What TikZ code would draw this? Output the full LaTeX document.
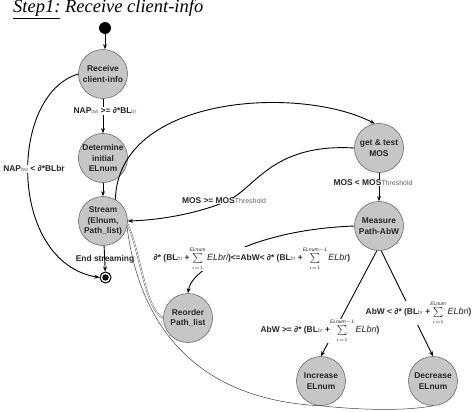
\documentclass[tikz,border=0pt]{standalone}
\usepackage{fontspec}
\setmainfont{Liberation Sans}
\newfontfamily\titlefont{Liberation Serif}
\usetikzlibrary{arrows.meta}
\definecolor{stfill}{RGB}{198,198,198}
\definecolor{stline}{RGB}{105,105,105}
\newcommand\smtxt[1]{{\fontsize{5.5}{6}\selectfont\mdseries\color{black!60}#1}}
\newcommand\thrtxt[1]{{\fontsize{7}{7}\selectfont\mdseries\color{black!60}#1}}
\newcommand\sumpart[2]{{\fontsize{9}{9}\selectfont$\sum\limits_{\scriptscriptstyle i=1}^{\scriptscriptstyle\mathit{#1}}\mathit{#2}$}}
\begin{document}
\begin{tikzpicture}[x=1pt,y=-1pt,
  state/.style={circle,minimum size=49pt,inner sep=0pt,fill=stfill,draw=stline,line width=0.6pt,
    align=center,font=\bfseries\fontsize{8.4}{10.5}\selectfont,text=black!85},
  arr/.style={line width=0.9pt,-{Stealth[length=5pt,width=4pt]}},
  lab/.style={font=\bfseries\fontsize{8.4}{9}\selectfont,fill=white,inner sep=0.5pt,text=black!85},
  thinl/.style={line width=0.5pt,draw=black!75},
  dthinl/.style={line width=0.35pt,draw=black!75,double=white,double distance=0.8pt}
]
\useasboundingbox (0,0) rectangle (474,412);
% title
\node[anchor=base west,inner sep=0pt,font=\titlefont\itshape\fontsize{18.5}{20}\selectfont] (title) at (13,13) {\underline{Step1:} Receive client-info};
% states
\node[circle,fill=black,minimum size=12pt,inner sep=0pt] (init) at (105,28) {};
\node[state] (rec) at (103,74) {Receive\\client-info};
\node[state] (det) at (103,158) {Determine\\initial\\ELnum};
\node[state] (str) at (103,221) {Stream\\(Elnum,\\Path\_list)};
\node[circle,draw=black,line width=1pt,fill=white,minimum size=11pt,inner sep=0pt] (fin) at (105.5,277.5) {};
\fill (fin.center) circle (3.2pt);
\node[state] (get) at (379,148) {get \& test\\MOS};
\node[state] (meas) at (379,226) {Measure\\Path-AbW};
\node[state] (reo) at (188,318) {Reorder\\Path\_list};
\node[state] (inc) at (321,381) {Increase\\ELnum};
\node[state] (dec) at (433,381) {Decrease\\ELnum};
\coordinate (c1) at (225,202);
\coordinate (c2) at (215,262);
% thin return lines
\draw[dthinl] (reo.west) .. controls (145,310) and (140,250) .. (str.-8);
\draw[thinl] (str.-14) .. controls (140,330) and (200,400) .. (inc.south) .. controls (350,409) and (400,412) .. (dec.south);
% connectors
\draw[arr] (init) -- (init |- rec.north);
\draw[arr] (rec) -- (det);
\draw[arr] (det) -- (str);
\draw[arr] (str) -- (fin);
\draw[arr] (rec.west) .. controls (8,95) and (8,262) .. (fin.west);
\draw[arr] (str.60) .. controls (118,95) and (300,85) .. (get.100);
\draw[arr] (get.west) .. controls (270,143) and (255,190) .. (c1) .. controls (195,214) and (160,220) .. (str.east);
\draw[arr] (get) -- (meas);
\draw[arr] (meas.west) .. controls (300,228) and (250,240) .. (c2) .. controls (200,272) and (190,280) .. (reo.north);
\draw[arr] (meas.-95) -- (inc.north);
\draw[arr] (meas.-85) -- (dec.north);
% labels
\node[lab] (l1) at (105,111) {NAP\smtxt{bw} >= ∂*BL\smtxt{br}};
\node[lab] (l2) at (34,169) {NAP\smtxt{bw} < ∂*BLbr};
\node[lab] (l3) at (224,201) {MOS >= MOS\thrtxt{Threshold}};
\node[lab] (l4) at (373,183) {MOS < MOS\thrtxt{Threshold}};
\node[lab,fill=none] (l5) at (105,259) {End streaming};
\node[lab] (l6) at (252,259) {∂* (BL\smtxt{br} +\sumpart{ELnum}{ELbri})<=AbW< ∂* (BL\smtxt{br} +\sumpart{ELnum{-}1}{ELbr})};
\node[lab,anchor=west] (l7) at (365,313) {AbW < ∂* (BL\smtxt{br} +\sumpart{ELnum}{ELbri})};
\node[lab] (l8) at (320,331) {AbW >= ∂* (BL\smtxt{br} +\sumpart{ELnum{-}1}{ELbri})};
\end{tikzpicture}
\end{document}
